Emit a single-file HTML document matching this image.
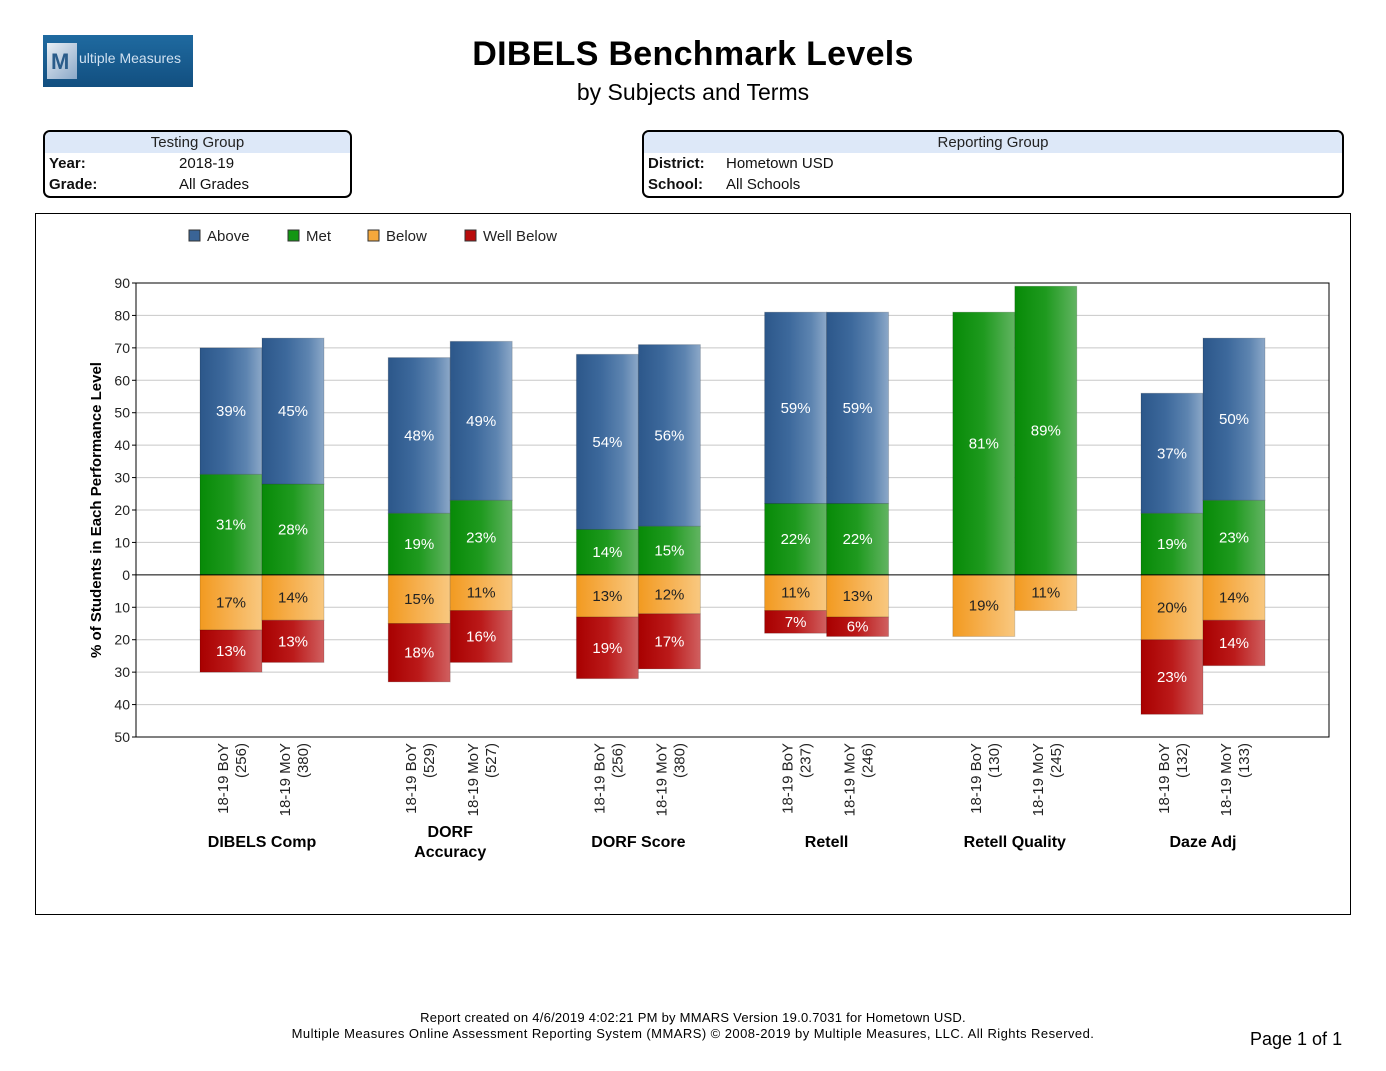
<!DOCTYPE html>
<html><head><meta charset="utf-8">
<style>
body{margin:0;width:1386px;height:1071px;background:#fff;font-family:"Liberation Sans",Arial,sans-serif;position:relative;overflow:hidden}
.abs{position:absolute}
.box{position:absolute;border:2px solid #000;border-radius:7px;overflow:hidden;font-size:15px}
.box .hd{background:#dde8f8;text-align:center;height:21px;line-height:21px;color:#222}
.box .row{height:21px;line-height:21px;position:relative;color:#111}
.box b{position:absolute;left:4px}
.box span{position:absolute}
</style></head><body>
<div class="abs" style="left:43px;top:35px;width:150px;height:52px;background:linear-gradient(#1f6aa0,#124f80);">
 <div class="abs" style="left:4px;top:8px;width:30px;height:36px;background:linear-gradient(135deg,#e8eef4,#8aa8c8);"></div>
 <div class="abs" style="left:8px;top:14px;color:#2a5c8a;font-weight:bold;font-size:22px">M</div>
 <div class="abs" style="left:36px;top:15px;color:#cfe0f0;font-size:14px">ultiple Measures</div>
</div>
<div class="abs" style="left:0;width:1386px;top:35px;text-align:center;font-size:34px;font-weight:bold;letter-spacing:0.3px">DIBELS Benchmark Levels</div>
<div class="abs" style="left:0;width:1386px;top:79px;text-align:center;font-size:23px">by Subjects and Terms</div>

<div class="box" style="left:43px;top:130px;width:305px;height:64px">
 <div class="hd">Testing Group</div>
 <div class="row"><b>Year:</b><span style="left:134px">2018-19</span></div>
 <div class="row"><b>Grade:</b><span style="left:134px">All Grades</span></div>
</div>
<div class="box" style="left:642px;top:130px;width:698px;height:64px">
 <div class="hd">Reporting Group</div>
 <div class="row"><b>District:</b><span style="left:82px">Hometown USD</span></div>
 <div class="row"><b>School:</b><span style="left:82px">All Schools</span></div>
</div>

<div class="abs" style="left:35px;top:213px;width:1314px;height:700px;border:1.5px solid #000"></div>
<svg class="abs" id="chart" style="left:0;top:0" width="1386" height="1071" font-family="Liberation Sans, Arial, sans-serif">
<defs>
 <linearGradient id="gA" x1="0" x2="1"><stop offset="0" stop-color="#2c578a"/><stop offset="0.4" stop-color="#3d699c"/><stop offset="0.75" stop-color="#5d84b0"/><stop offset="1" stop-color="#8ca8c8"/></linearGradient>
 <linearGradient id="gM" x1="0" x2="1"><stop offset="0" stop-color="#078a07"/><stop offset="0.5" stop-color="#1f9a1f"/><stop offset="1" stop-color="#62b462"/></linearGradient>
 <linearGradient id="gB" x1="0" x2="1"><stop offset="0" stop-color="#f29a20"/><stop offset="0.5" stop-color="#f6b050"/><stop offset="1" stop-color="#f8c880"/></linearGradient>
 <linearGradient id="gW" x1="0" x2="1"><stop offset="0" stop-color="#a80000"/><stop offset="0.5" stop-color="#bb1a1a"/><stop offset="1" stop-color="#d06060"/></linearGradient>
</defs>
</svg>

<div class="abs" style="left:0;width:1386px;top:1010px;text-align:center;font-size:13px;letter-spacing:0.25px">Report created on 4/6/2019 4:02:21 PM by MMARS Version 19.0.7031 for Hometown USD.</div>
<div class="abs" style="left:0;width:1386px;top:1026px;text-align:center;font-size:13px;letter-spacing:0.45px">Multiple Measures Online Assessment Reporting System (MMARS) © 2008-2019 by Multiple Measures, LLC. All Rights Reserved.</div>
<div class="abs" style="left:1250px;top:1029px;font-size:18px">Page 1 of 1</div>

<script>
const groups = ["DIBELS Comp","DORF|Accuracy","DORF Score","Retell","Retell Quality","Daze Adj"];
const terms = ["18-19 BoY","18-19 MoY"];
const counts = [[256,380],[529,527],[256,380],[237,246],[130,245],[132,133]];
const above = [[39,45],[48,49],[54,56],[59,59],[0,0],[37,50]];
const met = [[31,28],[19,23],[14,15],[22,22],[81,89],[19,23]];
const below = [[17,14],[15,11],[13,12],[11,13],[19,11],[20,14]];
const wellBelow = [[13,13],[18,16],[19,17],[7,6],[0,0],[23,14]];
const yTicks = [90,80,70,60,50,40,30,20,10,0,-10,-20,-30,-40,-50];
const legendItems = [["Above","#3a6496"],["Met","#139613"],["Below","#f4a83c"],["Well Below","#b80c0c"]];

const NS="http://www.w3.org/2000/svg";
const svg=document.getElementById('chart');
const L=136,R=1329,T=283,B=737,yMax=90,yMin=-50;
const y=v=>T+(yMax-v)*(B-T)/(yMax-yMin);
const band=188.2, first=262, barW=62;
const gx=i=>first+i*band;
function el(tag,attrs,parent){const e=document.createElementNS(NS,tag);for(const k in attrs)e.setAttribute(k,attrs[k]);(parent||svg).appendChild(e);return e;}
function txt(s,attrs,parent){const e=el('text',attrs,parent);e.textContent=s;return e;}

const grid=el('g',{});


yTicks.forEach(t=>{
 if(t!==0){el('line',{x1:L,x2:R,y1:y(t),y2:y(t),stroke:'#c8c8c8','stroke-width':1},grid);}
 const lab=txt(String(Math.abs(t)),{x:L-6,y:y(t)+5,'text-anchor':'end','font-size':14,fill:'#222'});
 
 
 el('line',{x1:L-4,x2:L,y1:y(t),y2:y(t),stroke:'#000'});
});
const frame=el('rect',{x:L,y:T,width:R-L,height:B-T,fill:'none',stroke:'#000','stroke-width':1});



const yt=txt('% of Students in Each Performance Level',{x:0,y:0,'font-size':15,'font-weight':'bold','text-anchor':'middle',transform:`translate(101,${(T+B)/2}) rotate(-90)`});



function seg(x,v0,v1,fill,label,color,name){
 if(v1===v0) return;
 const top=Math.min(y(v0),y(v1)),h=Math.abs(y(v1)-y(v0));
 const r=el('rect',{x:x,y:top,width:barW,height:h,fill:fill,stroke:'rgba(0,0,0,0.15)','stroke-width':1});
 
 
 const t=txt(label+'%',{x:x+barW/2,y:top+h/2+5,'text-anchor':'middle','font-size':15,fill:color});
 
 
}
groups.forEach((g,i)=>{
 terms.forEach((term,j)=>{
  const x=gx(i)-barW+j*barW;
  seg(x,0,met[i][j],'url(#gM)',met[i][j],'#fff','bar-met');
  seg(x,met[i][j],met[i][j]+above[i][j],'url(#gA)',above[i][j],'#fff','bar-above');
  seg(x,0,-below[i][j],'url(#gB)',below[i][j],'#222','bar-below');
  seg(x,-below[i][j],-below[i][j]-wellBelow[i][j],'url(#gW)',wellBelow[i][j],'#fff','bar-well-below');
  const cx=x+barW/2;
  const tl=txt('',{transform:`translate(${cx},743) rotate(-90)`,'font-size':15,'text-anchor':'end',fill:'#222'});
  
  
  const s1=el('tspan',{x:0,dy:-3},tl);s1.textContent=term;
  const s2=el('tspan',{x:0,dy:18},tl);s2.textContent='('+counts[i][j]+')';
 });
 const parts=g.split('|');
 const gl=txt('',{'font-size':16,'font-weight':'bold','text-anchor':'middle'});
 
 
 parts.forEach((p,k)=>{const s=el('tspan',{x:gx(i),y:(parts.length>1?837:847)+k*20},gl);s.textContent=p;});
});
el('line',{x1:L,x2:R,y1:y(0),y2:y(0),stroke:'#000','stroke-width':1});

const lx=[189,288,368,465];
legendItems.forEach((it,k)=>{
 const g=el('g',{});
 
 
 el('rect',{x:lx[k],y:230,width:11,height:11,fill:it[1],stroke:'#333','stroke-width':1},g);
 txt(it[0],{x:lx[k]+18,y:241,'font-size':15,fill:'#222'},g);
});
</script>
</body></html>
